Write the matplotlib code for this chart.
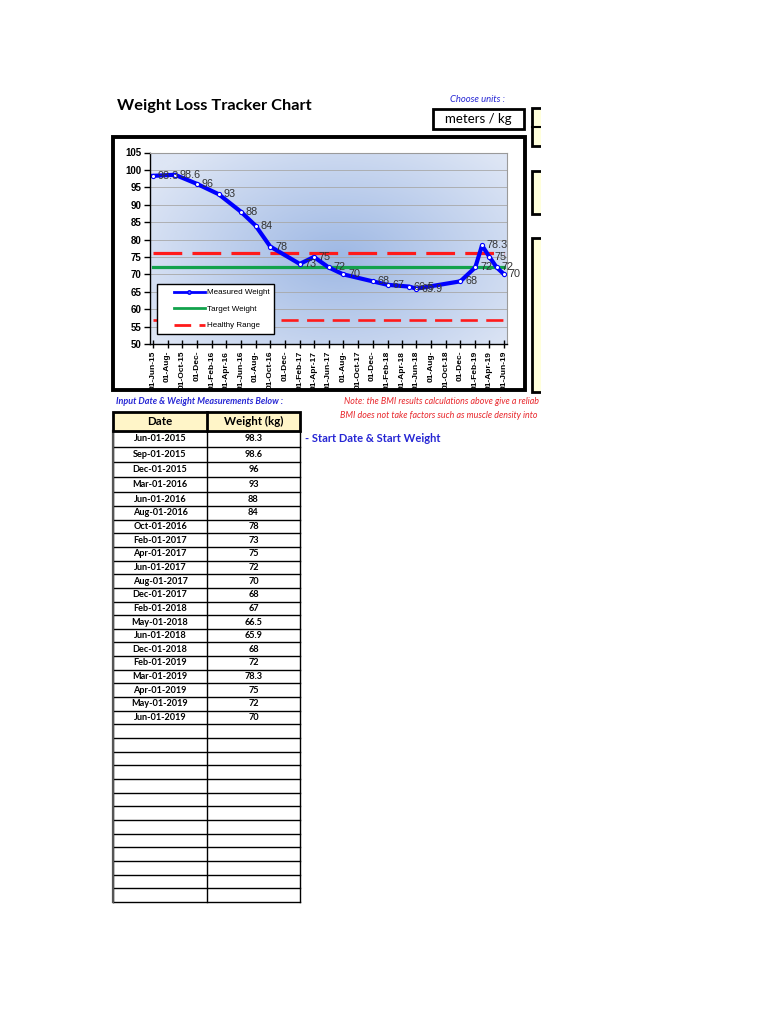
import matplotlib
matplotlib.use("Agg")
import matplotlib.pyplot as plt
from matplotlib.patches import Rectangle
from matplotlib.lines import Line2D
from matplotlib.legend_handler import HandlerLine2D
import numpy as np
import pandas as pd

# measurements typed into the sheet
dates = pd.to_datetime([
    "2015-06-01", "2015-09-01", "2015-12-01", "2016-03-01", "2016-06-01",
    "2016-08-01", "2016-10-01", "2017-02-01", "2017-04-01", "2017-06-01",
    "2017-08-01", "2017-12-01", "2018-02-01", "2018-05-01", "2018-06-01",
    "2018-12-01", "2019-02-01", "2019-03-01", "2019-04-01", "2019-05-01",
    "2019-06-01",
])
weights = [98.3, 98.6, 96, 93, 88, 84, 78, 73, 75, 72, 70, 68, 67, 66.5, 65.9,
           68, 72, 78.3, 75, 72, 70]

target_weight = 72
healthy_low = 57
healthy_high = 76
range_dates = pd.to_datetime(["2015-06-01", "2019-06-01"])

tick_dates = pd.date_range("2015-06-01", "2019-06-01", freq="2MS")
tick_labels = ["01-Jun-15", "01-Aug-", "01-Oct-15", "01-Dec-", "01-Feb-16",
               "01-Apr-16", "01-Jun-16", "01-Aug-", "01-Oct-16", "01-Dec-",
               "01-Feb-17", "01-Apr-17", "01-Jun-17", "01-Aug-", "01-Oct-17",
               "01-Dec-", "01-Feb-18", "01-Apr-18", "01-Jun-18", "01-Aug-",
               "01-Oct-18", "01-Dec-", "01-Feb-19", "01-Apr-19", "01-Jun-19"]
y_ticks = list(range(50, 110, 5))
n_empty_rows = 13

W, H = 768, 1024
BLUE_TXT = "#2626d4"
RED_TXT = "#e8262b"


def fig_rect(x0, y0, x1, y1):
    return [x0 / W, 1 - y1 / H, (x1 - x0) / W, (y1 - y0) / H]


fig = plt.figure(figsize=(W / 100, H / 100), dpi=100)

# sheet layer in pixel coords (page is cut at x=541)
bg = fig.add_axes(fig_rect(0, 0, 541, H))
bg.set_xlim(0, 541)
bg.set_ylim(H, 0)
bg.axis("off")
bg.set_zorder(0)

bg.text(117, 106, "Weight Loss Tracker Chart", fontsize=11.8, fontweight="bold",
        family="Lato", va="center", ha="left")
bg.text(478, 100, "Choose units :", fontsize=6.8, style="italic", color=BLUE_TXT,
        family="Lato", ha="center", va="center")
bg.add_patch(Rectangle((433, 109), 91, 20, fc="white", ec="black", lw=2))
bg.text(478.5, 119, "meters / kg", fontsize=9.5, family="Lato", ha="center", va="center")

# yellow boxes cut by the page edge
for top, bottom in [(108, 146), (171, 214), (238, 392)]:
    bg.add_patch(Rectangle((532, top), 30, bottom - top, fc="#ffffdc", ec="black", lw=2))
bg.plot([532, 541], [127, 127], color="black", lw=1.5)

# chart frame
bg.add_patch(Rectangle((113, 137), 412, 253, fc="white", ec="black", lw=2.8))

# notes
bg.text(116, 402, "Input Date & Weight Measurements Below :", fontsize=6.5,
        fontweight="bold", style="italic", color=BLUE_TXT, family="Lato", va="center")
bg.text(344, 402, "Note: the BMI results calculations above give a reliab", fontsize=6.4,
        style="italic", color=RED_TXT, family="Lato", va="center", clip_on=True)
bg.text(340, 416, "BMI does not take factors such as muscle density into", fontsize=6.4,
        style="italic", color=RED_TXT, family="Lato", va="center", clip_on=True)
bg.text(305, 438, "- Start Date & Start Weight", fontsize=8, fontweight="bold",
        color=BLUE_TXT, family="Lato", va="center")

# input table
x0, x1, x2 = 113, 207, 300
bounds = [412, 431, 446.5, 462, 477, 492, 506]
n_rows = len(weights) + n_empty_rows
while len(bounds) < n_rows + 2:
    bounds.append(bounds[-1] + 13.65)
bg.add_patch(Rectangle((x0, bounds[0]), x2 - x0, bounds[1] - bounds[0], fc="#fff5c8",
                       ec="black", lw=2, zorder=3))
bg.plot([x1, x1], [bounds[0], bounds[1]], color="black", lw=2, zorder=3)
for b in bounds[1:]:
    bg.plot([x0, x2], [b, b], color="black", lw=1)
for xv in (x0, x1, x2):
    bg.plot([xv, xv], [bounds[1], bounds[-1]], color="black", lw=1)
bg.plot([x0, x0], [bounds[1], bounds[-1]], color="#555555", lw=1.6)
mid = lambda i: (bounds[i] + bounds[i + 1]) / 2
bg.text((x0 + x1) / 2, mid(0), "Date", fontsize=8.3, fontweight="bold", family="Lato",
        ha="center", va="center", zorder=4)
bg.text((x1 + x2) / 2, mid(0), "Weight (kg)", fontsize=8.3, fontweight="bold", family="Lato",
        ha="center", va="center", zorder=4)
for i, (d, w) in enumerate(zip(dates, weights)):
    bg.text((x0 + x1) / 2, mid(i + 1), d.strftime("%b-%d-%Y"), fontsize=6.6,
            fontweight="bold", family="Lato", ha="center", va="center")
    bg.text((x1 + x2) / 2, mid(i + 1), f"{w:g}", fontsize=6.6, fontweight="bold",
            family="Lato", ha="center", va="center")

# plot area gradient
plot_rect = fig_rect(150, 152.5, 507, 344)
gax = fig.add_axes(plot_rect)
gax.set_zorder(1)
yy, xx = np.mgrid[0:1:200j, 0:1:300j]
r = np.clip(np.sqrt(((xx - 0.53) / 0.62) ** 2 + ((yy - 0.55) / 0.75) ** 2), 0, 1)
c_in = np.array([158, 184, 228]) / 255
c_out = np.array([222, 230, 245]) / 255
img = c_in * (1 - r[..., None]) + c_out * r[..., None]
gax.imshow(img, aspect="auto", extent=[0, 1, 0, 1])
gax.axis("off")

# chart
ax = fig.add_axes(plot_rect)
ax.set_zorder(2)
ax.set_facecolor("none")
ax.set_axisbelow(True)
ax.grid(axis="y", color="#a8a8a8", lw=0.6)

ax.plot(range_dates, [healthy_low] * 2, color="#ff1a1a", lw=1.9, linestyle=(0, (6.5, 3.2)))
ax.plot(range_dates, [healthy_high] * 2, color="#ff1a1a", lw=2.3, linestyle=(0, (9, 3.2)))
ax.plot(range_dates, [target_weight] * 2, color="#12a24c", lw=2.3)
ax.plot(dates, weights, color="#0000ff", lw=3, marker="o", markersize=3,
        markerfacecolor="white", markeredgecolor="#0000ff", markeredgewidth=0.8)
for d, w in zip(dates, weights):
    ax.annotate(f"{w:g}", (d, w), xytext=(3.5, 0), textcoords="offset points",
                ha="left", va="center", fontsize=7.8, color="#333333",
                family="Liberation Sans")

ax.set_xlim(range_dates[0] - pd.Timedelta(days=12), range_dates[1] + pd.Timedelta(days=12))
ax.set_ylim(50, 105)
ax.set_yticks(y_ticks)
ax.set_yticklabels([str(v) for v in y_ticks], fontsize=7, fontweight="bold",
                   family="Liberation Sans")
ax.set_xticks(tick_dates)
ax.set_xticklabels(tick_labels, rotation=90, fontsize=6, fontweight="bold",
                   family="Liberation Sans")
ax.tick_params(axis="x", direction="inout", length=6, width=1, pad=2)
ax.tick_params(axis="y", direction="out", length=4, width=1, pad=2)
for s in ("left", "bottom"):
    ax.spines[s].set_color("black")
    ax.spines[s].set_linewidth(1)
for s in ("top", "right"):
    ax.spines[s].set_color("#9a9a9a")
    ax.spines[s].set_linewidth(0.8)

handles = [
    Line2D([], [], color="#0000ff", lw=2, marker="o", markersize=2.5,
           markerfacecolor="#6666ff", markeredgecolor="#0000ff"),
    Line2D([], [], color="#12a24c", lw=2),
    Line2D([], [], color="#ff1a1a", lw=2, linestyle=(0, (6, 3))),
]
leg = ax.legend(handles, ["Measured Weight", "Target Weight", "Healthy Range"],
                loc="upper left", bbox_to_anchor=(157 / W, 1 - 284 / H),
                bbox_transform=fig.transFigure, borderaxespad=0, fancybox=False,
                edgecolor="black", framealpha=1,
                prop={"family": "Liberation Sans", "size": 5.8},
                handlelength=5.3, labelspacing=1.1, borderpad=0.6, handletextpad=0.3,
                handler_map={Line2D: HandlerLine2D(xpad=1.5)})
leg.get_frame().set_linewidth(1)

fig.savefig("out.png", dpi=100)
